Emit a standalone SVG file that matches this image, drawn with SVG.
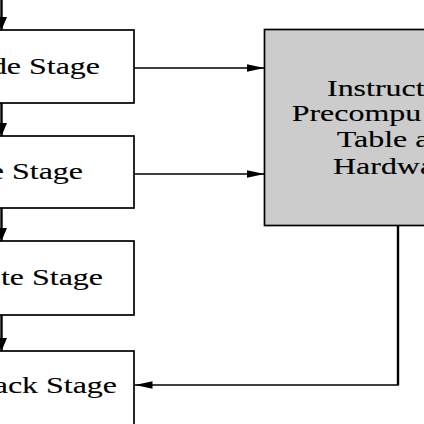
<svg xmlns="http://www.w3.org/2000/svg" width="424" height="424" viewBox="0 0 424 424">
  <style>
    .box { fill: #ffffff; stroke: #000000; stroke-width: 1.7; }
    .gbox { fill: #cccccc; stroke: #000000; stroke-width: 1.7; }
    .lbl { font-family: "Liberation Serif", "Times New Roman", serif; font-size: 22.5px; fill: #000000; stroke: #000000; stroke-width: 0.12; }
    .h { fill: none; stroke: #000000; stroke-width: 1.4; }
    .v { fill: none; stroke: #000000; stroke-width: 2.4; }
  </style>
  <defs>
    <marker id="ah" markerUnits="userSpaceOnUse" markerWidth="18" markerHeight="8" refX="18" refY="3.75" orient="auto">
      <path d="M0,0 L18,3.75 L0,7.5 z" fill="#000000"/>
    </marker>
    <marker id="av" markerUnits="userSpaceOnUse" markerWidth="11" markerHeight="13" refX="5.5" refY="13" orient="0">
      <path d="M0,0 L11,0 L5.5,13 z" fill="#000000"/>
    </marker>
  </defs>
  <rect width="424" height="424" fill="#ffffff"/>

  <g id="connectors">
    <line class="v" x1="1.5" y1="-5" x2="1.5" y2="30" marker-end="url(#av)"/>
    <line class="v" x1="1.5" y1="103" x2="1.5" y2="136" marker-end="url(#av)"/>
    <line class="v" x1="1.5" y1="208" x2="1.5" y2="241" marker-end="url(#av)"/>
    <line class="v" x1="1.5" y1="315" x2="1.5" y2="351" marker-end="url(#av)"/>
    <line class="h" x1="134" y1="68" x2="264.5" y2="68" marker-end="url(#ah)"/>
    <line class="h" x1="134" y1="174" x2="264.5" y2="174" marker-end="url(#ah)"/>
    <line class="v" x1="398" y1="226" x2="398" y2="385"/>
    <line class="h" x1="398.8" y1="385" x2="134.5" y2="385" marker-end="url(#ah)"/>
  </g>

  <g id="decode">
    <rect class="box" x="-60" y="30" width="194" height="73"/>
    <text class="lbl" text-anchor="end" transform="translate(100,73.5) scale(1.42,1)">de Stage</text>
  </g>
  <g id="stage2">
    <rect class="box" x="-60" y="136" width="194" height="72"/>
    <text class="lbl" text-anchor="end" transform="translate(83,179) scale(1.42,1)">e Stage</text>
  </g>
  <g id="stage3">
    <rect class="box" x="-60" y="241" width="194" height="74"/>
    <text class="lbl" text-anchor="end" transform="translate(103,285) scale(1.42,1)">te Stage</text>
  </g>
  <g id="writeback">
    <rect class="box" x="-60" y="351" width="194" height="80"/>
    <text class="lbl" text-anchor="end" transform="translate(117,392.5) scale(1.42,1)">ack Stage</text>
  </g>

  <g id="precompute">
    <rect class="gbox" x="264.5" y="29.5" width="200" height="196"/>
    <text class="lbl" transform="translate(327,96) scale(1.42,1)">Instruct</text>
    <text class="lbl" transform="translate(291.7,121) scale(1.42,1)">Precompu</text>
    <text class="lbl" transform="translate(336.7,147) scale(1.42,1)">Table a</text>
    <text class="lbl" transform="translate(333,173.5) scale(1.42,1)">Hardwa</text>
  </g>
</svg>
